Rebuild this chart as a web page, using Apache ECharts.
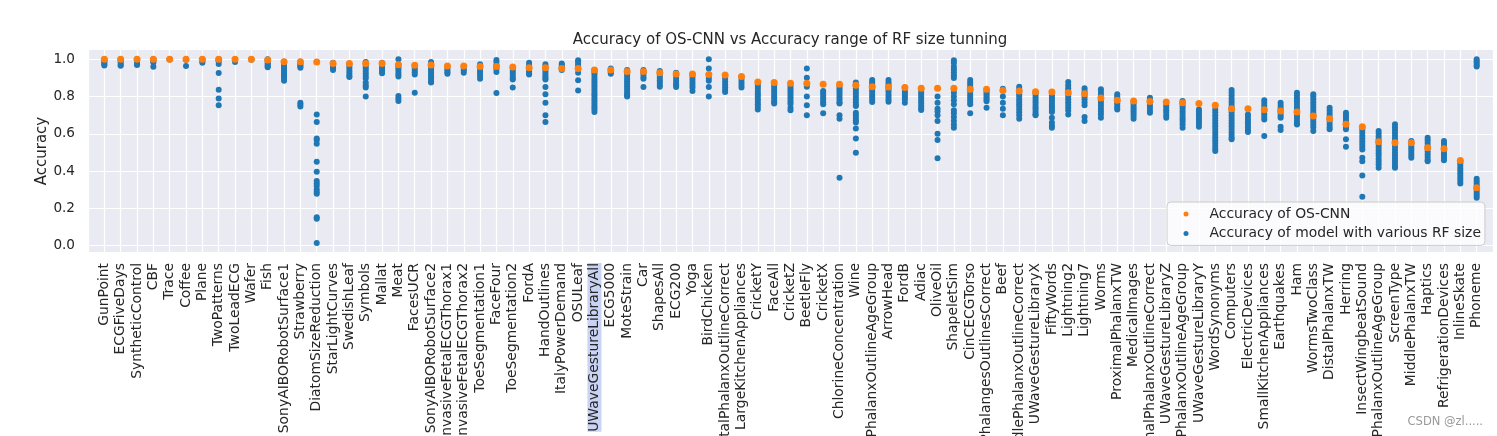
<!DOCTYPE html>
<html>
<head>
<meta charset="utf-8">
<script src="https://cdn.jsdelivr.net/npm/echarts@6/dist/echarts.min.js"></script>
<style>
html,body{margin:0;padding:0;background:#fff;}
#chart{width:1497px;height:436px;}
</style>
</head>
<body>
<div id="chart"></div>
<script>
var categories = ["GunPoint","ECGFiveDays","SyntheticControl","CBF","Trace","Coffee","Plane","TwoPatterns","TwoLeadECG","Wafer","Fish","SonyAIBORobotSurface1","Strawberry","DiatomSizeReduction","StarLightCurves","SwedishLeaf","Symbols","Mallat","Meat","FacesUCR","SonyAIBORobotSurface2","NonInvasiveFetalECGThorax1","NonInvasiveFetalECGThorax2","ToeSegmentation1","FaceFour","ToeSegmentation2","FordA","HandOutlines","ItalyPowerDemand","OSULeaf","UWaveGestureLibraryAll","ECG5000","MoteStrain","Car","ShapesAll","ECG200","Yoga","BirdChicken","DistalPhalanxOutlineCorrect","LargeKitchenAppliances","CricketY","FaceAll","CricketZ","BeetleFly","CricketX","ChlorineConcentration","Wine","DistalPhalanxOutlineAgeGroup","ArrowHead","FordB","Adiac","OliveOil","ShapeletSim","CinCECGTorso","PhalangesOutlinesCorrect","Beef","MiddlePhalanxOutlineCorrect","UWaveGestureLibraryX","FiftyWords","Lightning2","Lightning7","Worms","ProximalPhalanxTW","MedicalImages","ProximalPhalanxOutlineCorrect","UWaveGestureLibraryZ","ProximalPhalanxOutlineAgeGroup","UWaveGestureLibraryY","WordSynonyms","Computers","ElectricDevices","SmallKitchenAppliances","Earthquakes","Ham","WormsTwoClass","DistalPhalanxTW","Herring","InsectWingbeatSound","MiddlePhalanxOutlineAgeGroup","ScreenType","MiddlePhalanxTW","Haptics","RefrigerationDevices","InlineSkate","Phoneme"];

var osCnnAcc = [1.0,1.0,1.0,1.0,1.0,1.0,1.0,1.0,1.0,1.0,0.996,0.987,0.987,0.986,0.977,0.977,0.977,0.977,0.971,0.968,0.97,0.964,0.964,0.961,0.961,0.959,0.955,0.955,0.95,0.95,0.943,0.943,0.935,0.934,0.928,0.921,0.921,0.919,0.916,0.907,0.878,0.875,0.871,0.871,0.866,0.866,0.86,0.853,0.851,0.848,0.844,0.844,0.844,0.839,0.839,0.833,0.83,0.826,0.824,0.821,0.815,0.792,0.78,0.776,0.774,0.771,0.767,0.763,0.753,0.735,0.735,0.729,0.722,0.717,0.695,0.681,0.651,0.638,0.557,0.552,0.552,0.525,0.52,0.457,0.31];

var rfSizeAcc = [
[1.0,0.993,0.987,0.98,0.973,0.967],
[1.0,0.99,0.98,0.97,0.965],
[1.0,0.993,0.987,0.98,0.973,0.97],
[1.0,0.99,0.983,0.96],
[1.0,0.999],
[1.0,0.998,0.964],
[1.0,0.99,0.981],
[1.0,0.995,0.99,0.975,0.927,0.837,0.789,0.753],
[1.0,0.995,0.985],
[1.0,0.998],
[1.0,0.993,0.985,0.977,0.97,0.963,0.957],
[0.987,0.975,0.965,0.955,0.945,0.935,0.925,0.915,0.905,0.895,0.885],
[0.987,0.978,0.97,0.962,0.955,0.767,0.757,0.746],
[0.704,0.663,0.575,0.566,0.547,0.45,0.396,0.346,0.333,0.319,0.301,0.287,0.278,0.152,0.143,0.014],
[0.982,0.972,0.962,0.952,0.943],
[0.973,0.96,0.948,0.935,0.922,0.91,0.905],
[0.986,0.975,0.962,0.95,0.937,0.924,0.911,0.898,0.875,0.86,0.848,0.8],
[0.982,0.97,0.958,0.946,0.935,0.925],
[1.0,0.971,0.958,0.945,0.932,0.92,0.907,0.803,0.79,0.776],
[0.968,0.955,0.942,0.93,0.919,0.821],
[0.986,0.975,0.963,0.951,0.94,0.928,0.916,0.904,0.892,0.88,0.875],
[0.961,0.95,0.94,0.93,0.923],
[0.961,0.95,0.94,0.928],
[0.973,0.96,0.948,0.935,0.922,0.91,0.896],
[0.996,0.985,0.97,0.96,0.948,0.932,0.819],
[0.95,0.938,0.925,0.912,0.9,0.892,0.848],
[0.982,0.97,0.958,0.946,0.934,0.925,0.919],
[0.973,0.96,0.948,0.935,0.922,0.91,0.9,0.892,0.851,0.812,0.767,0.7,0.663],
[0.978,0.968,0.958,0.95,0.943],
[0.995,0.985,0.975,0.964,0.928,0.887,0.833],
[0.943,0.93,0.918,0.905,0.892,0.88,0.867,0.855,0.842,0.83,0.817,0.805,0.792,0.78,0.767,0.755,0.742,0.73,0.717],
[0.95,0.94,0.93,0.923],
[0.943,0.93,0.918,0.905,0.892,0.88,0.867,0.855,0.842,0.83,0.817,0.805,0.8],
[0.943,0.93,0.918,0.905,0.896,0.851],
[0.937,0.925,0.912,0.9,0.888,0.875,0.862,0.853],
[0.928,0.915,0.9,0.885,0.87,0.86,0.851],
[0.919,0.905,0.89,0.876,0.862,0.848,0.83],
[1.0,0.95,0.919,0.9,0.885,0.851,0.8],
[0.907,0.895,0.88,0.865,0.85,0.835,0.824],
[0.905,0.89,0.875,0.862,0.848],
[0.866,0.853,0.84,0.826,0.812,0.8,0.786,0.772,0.758,0.745,0.731],
[0.866,0.852,0.838,0.824,0.81,0.796,0.782,0.77,0.763],
[0.857,0.845,0.832,0.82,0.808,0.795,0.783,0.771,0.76,0.74,0.726],
[0.95,0.901,0.866,0.853,0.8,0.753,0.699],
[0.83,0.82,0.808,0.795,0.783,0.77,0.758,0.71],
[0.857,0.845,0.832,0.82,0.808,0.795,0.783,0.77,0.763,0.699,0.681,0.364],
[0.875,0.86,0.845,0.83,0.815,0.8,0.785,0.77,0.755,0.749,0.713,0.7,0.685,0.672,0.66,0.629,0.575,0.498],
[0.889,0.876,0.863,0.85,0.837,0.824,0.81,0.797,0.784,0.771],
[0.889,0.876,0.863,0.85,0.837,0.824,0.81,0.797,0.784,0.772],
[0.848,0.835,0.822,0.81,0.797,0.785,0.767],
[0.839,0.826,0.813,0.8,0.787,0.774,0.761,0.748,0.735,0.728],
[0.8,0.767,0.735,0.72,0.699,0.668,0.6,0.566,0.468],
[0.995,0.98,0.96,0.945,0.93,0.915,0.9,0.839,0.82,0.8,0.78,0.758,0.726,0.71,0.69,0.67,0.65,0.633],
[0.889,0.876,0.863,0.85,0.837,0.824,0.81,0.797,0.784,0.771,0.758,0.71],
[0.835,0.825,0.815,0.805,0.795,0.785,0.775,0.74],
[0.842,0.833,0.8,0.767,0.735,0.699],
[0.853,0.84,0.826,0.812,0.8,0.786,0.772,0.758,0.745,0.73,0.715,0.7,0.681],
[0.821,0.808,0.795,0.782,0.769,0.756,0.743,0.73,0.717,0.705,0.699],
[0.806,0.795,0.784,0.772,0.76,0.748,0.736,0.724,0.717,0.686,0.66,0.645,0.633],
[0.878,0.86,0.845,0.83,0.815,0.8,0.785,0.77,0.755,0.74,0.725,0.704],
[0.844,0.83,0.815,0.8,0.785,0.77,0.753,0.69,0.668],
[0.839,0.825,0.81,0.795,0.78,0.765,0.75,0.735,0.72,0.705,0.686],
[0.812,0.8,0.788,0.776,0.764,0.752,0.74,0.731],
[0.767,0.755,0.743,0.731,0.719,0.707,0.695,0.681],
[0.794,0.78,0.766,0.752,0.738,0.724,0.713],
[0.753,0.74,0.727,0.714,0.7,0.686],
[0.776,0.762,0.748,0.734,0.72,0.706,0.692,0.678,0.664,0.65,0.633],
[0.731,0.718,0.705,0.692,0.679,0.666,0.652,0.638],
[0.731,0.715,0.7,0.685,0.67,0.655,0.64,0.625,0.61,0.595,0.58,0.565,0.55,0.535,0.52,0.507],
[0.835,0.82,0.805,0.79,0.775,0.76,0.745,0.73,0.715,0.7,0.685,0.67,0.655,0.64,0.625,0.61,0.595,0.58,0.57],
[0.704,0.69,0.676,0.662,0.648,0.634,0.62,0.609],
[0.78,0.765,0.75,0.735,0.72,0.705,0.69,0.677,0.588],
[0.767,0.752,0.737,0.722,0.707,0.695,0.686,0.638,0.62],
[0.821,0.806,0.79,0.775,0.76,0.745,0.73,0.715,0.7,0.685,0.67,0.655,0.65],
[0.812,0.8,0.785,0.77,0.755,0.74,0.725,0.71,0.695,0.68,0.665,0.65,0.635,0.615],
[0.74,0.725,0.71,0.695,0.68,0.665,0.65,0.635,0.624],
[0.713,0.7,0.687,0.674,0.661,0.648,0.635,0.624,0.57,0.53],
[0.633,0.62,0.605,0.59,0.575,0.56,0.545,0.53,0.516,0.471,0.453,0.376,0.262],
[0.615,0.6,0.585,0.57,0.555,0.54,0.525,0.51,0.495,0.48,0.465,0.45,0.435,0.418],
[0.651,0.635,0.62,0.605,0.59,0.575,0.56,0.545,0.53,0.515,0.5,0.485,0.47,0.455,0.44,0.425,0.418],
[0.561,0.548,0.535,0.522,0.51,0.497,0.484,0.471],
[0.579,0.565,0.55,0.535,0.52,0.505,0.49,0.475,0.46,0.453],
[0.561,0.548,0.535,0.522,0.509,0.496,0.483,0.47,0.458],
[0.453,0.44,0.427,0.413,0.4,0.387,0.373,0.36,0.347,0.333],
[1.0,0.99,0.98,0.97,0.961,0.358,0.345,0.332,0.32,0.307,0.294,0.281,0.268,0.256]
];

var yTicks = [0.0, 0.2, 0.4, 0.6, 0.8, 1.0];
var highlightedCategory = "UWaveGestureLibraryAll";

var osData = osCnnAcc.map(function(v, i){ return [i, v]; });
var rfData = [];
rfSizeAcc.forEach(function(arr, i){ arr.forEach(function(v){ rfData.push([i, v]); }); });

var FONT = 'DejaVu Sans';
var TXT = '#262626';
var chart = echarts.init(document.getElementById('chart'), null, {renderer: 'canvas'});
chart.setOption({
  animation: false,
  backgroundColor: '#ffffff',
  title: {
    text: 'Accuracy of OS-CNN vs Accuracy range of RF size tunning',
    left: 785, textAlign: 'center', top: 28,
    textStyle: {fontFamily: FONT, fontSize: 15, fontWeight: 'normal', color: TXT}
  },
  grid: {left: 88, right: 4, top: 50, bottom: 184, show: true, backgroundColor: '#eaeaf2', borderWidth: 0,
    containLabel: false, outerBoundsMode: 'none'},
  xAxis: {
    type: 'value', min: -1, max: 85, interval: 1,
    axisLine: {show: false}, axisTick: {show: false},
    splitLine: {show: true, lineStyle: {color: '#ffffff', width: 1.2}},
    axisLabel: {
      rotate: 90, margin: 11, fontFamily: FONT, fontSize: 13.9, color: TXT,
      formatter: function(v){
        var n = categories[v];
        if (!n) return '';
        return n === highlightedCategory ? '{hl|' + n + '}' : n;
      },
      rich: {hl: {backgroundColor: '#c9d3f3', fontFamily: FONT, fontSize: 13.9, color: TXT}}
    }
  },
  yAxis: {
    type: 'value', min: -0.035, max: 1.05,
    name: 'Accuracy', nameLocation: 'middle', nameGap: 38, nameRotate: 90, nameMoveOverlap: false,
    nameTextStyle: {fontFamily: FONT, fontSize: 15, color: TXT},
    axisLine: {show: false},
    axisTick: {show: false, customValues: yTicks},
    splitLine: {show: true, lineStyle: {color: '#ffffff', width: 1.2}},
    axisLabel: {customValues: yTicks, margin: 13, fontFamily: FONT, fontSize: 13.6, color: TXT,
      formatter: function(v){ return v.toFixed(1); }}
  },
  legend: {
    orient: 'vertical', left: 1167, top: 202,
    data: ['Accuracy of OS-CNN', 'Accuracy of model with various RF size'],
    backgroundColor: 'rgba(255,255,255,0.8)', borderColor: '#cccccc', borderWidth: 1, borderRadius: 4,
    padding: [5, 4, 5, 16.5], itemGap: 5.4, itemWidth: 37, itemHeight: 5,
    textStyle: {fontFamily: FONT, fontSize: 13.9, color: TXT}
  },
  series: [
    {name: 'Accuracy of model with various RF size', type: 'scatter', data: rfData,
     symbol: 'circle', symbolSize: 6, itemStyle: {color: '#1f77b4', opacity: 1}, z: 2},
    {name: 'Accuracy of OS-CNN', type: 'scatter', data: osData,
     symbol: 'circle', symbolSize: 7, itemStyle: {color: '#ff7f0e', opacity: 1}, z: 3}
  ],
  graphic: [{type: 'text', right: 14, top: 416,
    style: {text: 'CSDN @zl.....', fontFamily: FONT, fontSize: 11.5, fill: '#999999'}}]
});
</script>
</body>
</html>
